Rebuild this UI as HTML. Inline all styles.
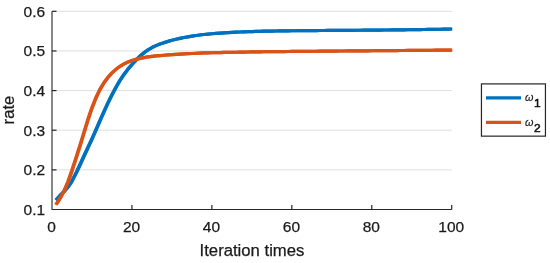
<!DOCTYPE html>
<html><head><meta charset="utf-8"><title>rate vs iteration times</title>
<style>
html,body{margin:0;padding:0;background:#fff;}
svg{display:block;font-family:"Liberation Sans",sans-serif;}
.g line{stroke:#dfdfdf;stroke-width:1;}
.ax line,.ax path{stroke:#262626;stroke-width:1.1;fill:none;}
.ax .tk line{stroke-width:1.2;}
.t text{font-size:15.5px;fill:#1a1a1a;stroke:#1a1a1a;stroke-width:0.25;}
.lab{font-size:16.7px;fill:#1a1a1a;stroke:#1a1a1a;stroke-width:0.25;}
.c{fill:none;stroke-width:3.2;stroke-linejoin:round;stroke-linecap:butt;}
</style></head><body>
<svg width="550" height="263" viewBox="0 0 550 263">
<rect width="550" height="263" fill="#fff"/>
<g class="g"><line x1="52" x2="451.7" y1="209.50" y2="209.50"/><line x1="52" x2="451.7" y1="169.86" y2="169.86"/><line x1="52" x2="451.7" y1="130.22" y2="130.22"/><line x1="52" x2="451.7" y1="90.58" y2="90.58"/><line x1="52" x2="451.7" y1="50.94" y2="50.94"/><line x1="52" x2="451.7" y1="11.30" y2="11.30"/></g>
<g class="ax"><path d="M52,11.3 L52,209.5 L451.7,209.5"/><g class="tk"><line x1="52" x2="56.5" y1="169.86" y2="169.86"/><line x1="131.94" x2="131.94" y1="209.5" y2="205.0"/><line x1="52" x2="56.5" y1="130.22" y2="130.22"/><line x1="211.88" x2="211.88" y1="209.5" y2="205.0"/><line x1="52" x2="56.5" y1="90.58" y2="90.58"/><line x1="291.82" x2="291.82" y1="209.5" y2="205.0"/><line x1="52" x2="56.5" y1="50.94" y2="50.94"/><line x1="371.76" x2="371.76" y1="209.5" y2="205.0"/><line x1="52" x2="56.5" y1="11.30" y2="11.30"/><line x1="451.70" x2="451.70" y1="209.5" y2="205.0"/></g></g>
<g class="c" stroke="#0072BD"><path transform="translate(-0.3,0)" d="M56,200.09 L60,195.46 L64,191.64 L68,187.06 L72,181.01 L76,173.34 L80,164.78 L84,156.03 L88,147.45 L92,138.85 L96,129.95 L100,120.68 L104,111.64 L108,102.92 L112,94.74 L116,87.23 L120,80.41 L124,74.43 L128,69.15 L132,64.41 L136,60.11 L140,56.23 L144,52.75 L148,49.89 L152,47.56 L156,45.64 L160,44.03 L164,42.65 L168,41.41 L172,40.29 L176,39.28 L180,38.37 L184,37.55 L188,36.81 L192,36.14 L196,35.52 L200,34.96 L204,34.53 L208,34.13 L212,33.77 L216,33.44 L220,33.14 L224,32.87 L228,32.63 L232,32.40 L236,32.20 L240,32.01 L244,31.85 L248,31.69 L252,31.55 L256,31.43 L260,31.31 L264,31.22 L268,31.13 L272,31.06 L276,30.99 L280,30.93 L284,30.87 L288,30.82 L292,30.77 L296,30.73 L300,30.69 L304,30.65 L308,30.62 L312,30.58 L316,30.55 L320,30.52 L324,30.49 L328,30.47 L332,30.44 L336,30.41 L340,30.38 L344,30.35 L348,30.33 L352,30.30 L356,30.27 L360,30.24 L364,30.20 L368,30.17 L372,30.13 L376,30.10 L380,30.06 L384,30.02 L388,29.98 L392,29.93 L396,29.89 L400,29.84 L404,29.79 L408,29.73 L412,29.68 L416,29.62 L420,29.56 L424,29.50 L428,29.44 L432,29.37 L436,29.30 L440,29.23 L444,29.15 L448,29.08 L452,29.00"/><path transform="translate(0.3,0)" d="M56,200.09 L60,195.46 L64,191.64 L68,187.06 L72,181.01 L76,173.34 L80,164.78 L84,156.03 L88,147.45 L92,138.85 L96,129.95 L100,120.68 L104,111.64 L108,102.92 L112,94.74 L116,87.23 L120,80.41 L124,74.43 L128,69.15 L132,64.41 L136,60.11 L140,56.23 L144,52.75 L148,49.89 L152,47.56 L156,45.64 L160,44.03 L164,42.65 L168,41.41 L172,40.29 L176,39.28 L180,38.37 L184,37.55 L188,36.81 L192,36.14 L196,35.52 L200,34.96 L204,34.53 L208,34.13 L212,33.77 L216,33.44 L220,33.14 L224,32.87 L228,32.63 L232,32.40 L236,32.20 L240,32.01 L244,31.85 L248,31.69 L252,31.55 L256,31.43 L260,31.31 L264,31.22 L268,31.13 L272,31.06 L276,30.99 L280,30.93 L284,30.87 L288,30.82 L292,30.77 L296,30.73 L300,30.69 L304,30.65 L308,30.62 L312,30.58 L316,30.55 L320,30.52 L324,30.49 L328,30.47 L332,30.44 L336,30.41 L340,30.38 L344,30.35 L348,30.33 L352,30.30 L356,30.27 L360,30.24 L364,30.20 L368,30.17 L372,30.13 L376,30.10 L380,30.06 L384,30.02 L388,29.98 L392,29.93 L396,29.89 L400,29.84 L404,29.79 L408,29.73 L412,29.68 L416,29.62 L420,29.56 L424,29.50 L428,29.44 L432,29.37 L436,29.30 L440,29.23 L444,29.15 L448,29.08 L452,29.00"/></g>
<g class="c" stroke="#D95319"><path transform="translate(-0.3,0)" d="M56,204.75 L60,198.40 L64,191.03 L68,181.80 L72,170.59 L76,158.34 L80,145.78 L84,132.64 L88,119.63 L92,107.79 L96,97.74 L100,89.40 L104,82.76 L108,77.33 L112,72.92 L116,69.32 L120,66.33 L124,63.93 L128,62.02 L132,60.51 L136,59.34 L140,58.42 L144,57.58 L148,56.90 L152,56.36 L156,55.92 L160,55.56 L164,55.26 L168,54.97 L172,54.69 L176,54.43 L180,54.19 L184,53.95 L188,53.72 L192,53.50 L196,53.29 L200,53.09 L204,52.97 L208,52.86 L212,52.76 L216,52.66 L220,52.56 L224,52.47 L228,52.39 L232,52.31 L236,52.23 L240,52.15 L244,52.08 L248,52.01 L252,51.94 L256,51.88 L260,51.81 L264,51.76 L268,51.71 L272,51.67 L276,51.62 L280,51.58 L284,51.54 L288,51.49 L292,51.45 L296,51.41 L300,51.38 L304,51.34 L308,51.30 L312,51.26 L316,51.23 L320,51.19 L324,51.16 L328,51.12 L332,51.09 L336,51.05 L340,51.02 L344,50.99 L348,50.95 L352,50.92 L356,50.89 L360,50.85 L364,50.82 L368,50.79 L372,50.75 L376,50.72 L380,50.69 L384,50.66 L388,50.62 L392,50.59 L396,50.56 L400,50.52 L404,50.49 L408,50.46 L412,50.42 L416,50.39 L420,50.36 L424,50.32 L428,50.29 L432,50.25 L436,50.22 L440,50.19 L444,50.15 L448,50.12 L452,50.08"/><path transform="translate(0.3,0)" d="M56,204.75 L60,198.40 L64,191.03 L68,181.80 L72,170.59 L76,158.34 L80,145.78 L84,132.64 L88,119.63 L92,107.79 L96,97.74 L100,89.40 L104,82.76 L108,77.33 L112,72.92 L116,69.32 L120,66.33 L124,63.93 L128,62.02 L132,60.51 L136,59.34 L140,58.42 L144,57.58 L148,56.90 L152,56.36 L156,55.92 L160,55.56 L164,55.26 L168,54.97 L172,54.69 L176,54.43 L180,54.19 L184,53.95 L188,53.72 L192,53.50 L196,53.29 L200,53.09 L204,52.97 L208,52.86 L212,52.76 L216,52.66 L220,52.56 L224,52.47 L228,52.39 L232,52.31 L236,52.23 L240,52.15 L244,52.08 L248,52.01 L252,51.94 L256,51.88 L260,51.81 L264,51.76 L268,51.71 L272,51.67 L276,51.62 L280,51.58 L284,51.54 L288,51.49 L292,51.45 L296,51.41 L300,51.38 L304,51.34 L308,51.30 L312,51.26 L316,51.23 L320,51.19 L324,51.16 L328,51.12 L332,51.09 L336,51.05 L340,51.02 L344,50.99 L348,50.95 L352,50.92 L356,50.89 L360,50.85 L364,50.82 L368,50.79 L372,50.75 L376,50.72 L380,50.69 L384,50.66 L388,50.62 L392,50.59 L396,50.56 L400,50.52 L404,50.49 L408,50.46 L412,50.42 L416,50.39 L420,50.36 L424,50.32 L428,50.29 L432,50.25 L436,50.22 L440,50.19 L444,50.15 L448,50.12 L452,50.08"/></g>
<g class="t"><text x="45.1" y="214.90" text-anchor="end">0.1</text><text x="45.1" y="175.26" text-anchor="end">0.2</text><text x="45.1" y="135.62" text-anchor="end">0.3</text><text x="45.1" y="95.98" text-anchor="end">0.4</text><text x="45.1" y="56.34" text-anchor="end">0.5</text><text x="45.1" y="16.70" text-anchor="end">0.6</text><text x="51.60" y="231.7" text-anchor="middle">0</text><text x="131.54" y="231.7" text-anchor="middle">20</text><text x="211.48" y="231.7" text-anchor="middle">40</text><text x="291.42" y="231.7" text-anchor="middle">60</text><text x="371.36" y="231.7" text-anchor="middle">80</text><text x="451.30" y="231.7" text-anchor="middle">100</text></g>
<text class="lab" x="252" y="255.8" text-anchor="middle">Iteration times</text>
<text class="lab" transform="translate(13.8,110) rotate(-90)" text-anchor="middle">rate</text>
<rect x="481.45" y="83.9" width="64" height="52.25" fill="#fff" stroke="#262626" stroke-width="1.2"/>
<line x1="486" x2="521" y1="97.9" y2="97.9" stroke="#0072BD" stroke-width="3.4"/>
<line x1="486" x2="521" y1="122.4" y2="122.4" stroke="#D95319" stroke-width="3.4"/>
<g font-style="italic" font-size="10.8" fill="#1a1a1a" stroke="#1a1a1a" stroke-width="0.15"><text x="524.9" y="101.2">ω</text><text x="524.9" y="126.3">ω</text></g>
<g font-size="10.3" fill="#111" stroke="#111" stroke-width="0.45"><text transform="translate(533.9,106.9) scale(1.16,1)">1</text><text transform="translate(533.9,131.9) scale(1.16,1)">2</text></g>
</svg>
</body></html>
